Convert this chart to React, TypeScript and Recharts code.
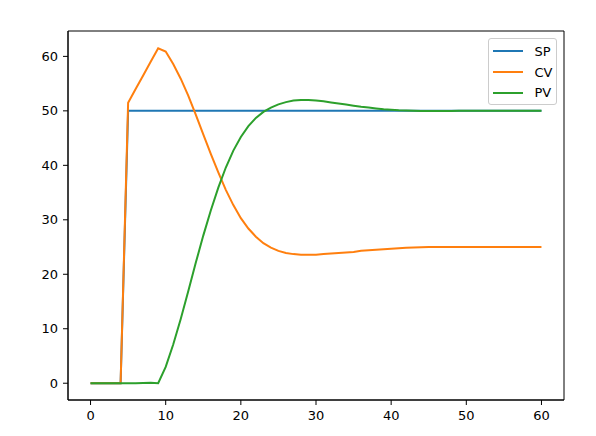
import React from "react";
import { LineChart, Line, XAxis, YAxis, ReferenceArea } from "recharts";

const time = Array.from({ length: 61 }, (_, i) => i);
const sp = [0, 0, 0, 0, 0, 50, 50, 50, 50, 50, 50, 50, 50, 50, 50, 50, 50, 50, 50, 50, 50, 50, 50, 50, 50, 50, 50, 50, 50, 50, 50, 50, 50, 50, 50, 50, 50, 50, 50, 50, 50, 50, 50, 50, 50, 50, 50, 50, 50, 50, 50, 50, 50, 50, 50, 50, 50, 50, 50, 50, 50];
const cv = [0, 0, 0, 0, 0, 51.5, 54, 56.5, 59, 61.5, 60.9, 58.6, 55.9, 52.8, 49.3, 45.7, 42.1, 38.7, 35.5, 32.7, 30.3, 28.4, 26.9, 25.7, 24.9, 24.3, 23.9, 23.7, 23.6, 23.6, 23.6, 23.7, 23.8, 23.9, 24, 24.1, 24.3, 24.4, 24.5, 24.6, 24.7, 24.8, 24.85, 24.9, 24.95, 25, 25, 25, 25, 25, 25, 25, 25, 25, 25, 25, 25, 25, 25, 25, 25];
const pv = [0, 0, 0, 0, 0, 0, 0, 0.05, 0.1, 0, 3, 7.1, 11.8, 16.9, 22.1, 27.1, 31.7, 35.9, 39.6, 42.7, 45.2, 47.2, 48.7, 49.8, 50.6, 51.2, 51.6, 51.9, 52, 52, 51.9, 51.75, 51.55, 51.35, 51.15, 50.95, 50.75, 50.6, 50.45, 50.3, 50.2, 50.1, 50.05, 50, 49.97, 49.97, 49.98, 49.98, 49.99, 50, 50, 50, 50, 50, 50, 50, 50, 50, 50, 50, 50];
const xTicks = [0, 10, 20, 30, 40, 50, 60];
const yTicks = [0, 10, 20, 30, 40, 50, 60];
const seriesNames = ["SP", "CV", "PV"];
const colors = ["#1f77b4", "#ff7f0e", "#2ca02c"];
const xDomain = [-3, 63];
const yDomain = [-3.08, 64.66];

const data = time.map((t, i) => ({ t, SP: sp[i], CV: cv[i], PV: pv[i] }));

const font = "DejaVu Sans, sans-serif";

const LegendBox = () => (
  <div
    style={{
      position: "absolute",
      left: 480,
      top: 30,
      width: 69,
      height: 67,
      boxSizing: "border-box",
      border: "1px solid #cccccc",
      borderRadius: 3,
      background: "rgba(255,255,255,0.8)",
      fontFamily: font,
      fontSize: 13,
      color: "#000",
      paddingTop: 2,
    }}
  >
    {seriesNames.map((n, i) => (
      <div key={n} style={{ display: "flex", alignItems: "center", height: 20.7 }}>
        <div style={{ width: 30, height: 2, background: colors[i], marginLeft: 3.5 }} />
        <span style={{ marginLeft: 12, lineHeight: "15px" }}>{n}</span>
      </div>
    ))}
  </div>
);

export default function App() {
  const tickStyle = { fill: "#000", fontSize: 13, fontFamily: font };
  return (
    <div style={{ position: "relative", width: 588, height: 428, background: "#fff" }}>
      <LineChart
        width={588}
        height={428}
        data={data}
        margin={{ top: 23, right: 32, left: 0, bottom: 0 }}
      >
        <XAxis
          dataKey="t"
          type="number"
          domain={xDomain}
          ticks={xTicks}
          allowDataOverflow
          height={36}
          tick={tickStyle}
          tickSize={5}
          tickMargin={6}
          stroke="#000"
          tickLine={{ stroke: "#000" }}
          axisLine={{ stroke: "#000" }}
        />
        <YAxis
          type="number"
          domain={yDomain}
          ticks={yTicks}
          allowDataOverflow
          width={60}
          tick={tickStyle}
          tickSize={5}
          tickMargin={5}
          stroke="#000"
          tickLine={{ stroke: "#000" }}
          axisLine={{ stroke: "#000" }}
        />
        <ReferenceArea
          x1={xDomain[0]}
          x2={xDomain[1]}
          y1={yDomain[0]}
          y2={yDomain[1]}
          fill="none"
          fillOpacity={0}
          stroke="#000"
          strokeWidth={1}
          ifOverflow="visible"
        />
        <Line type="linear" dataKey="SP" stroke={colors[0]} strokeWidth={2} dot={false} isAnimationActive={false} />
        <Line type="linear" dataKey="CV" stroke={colors[1]} strokeWidth={2} dot={false} isAnimationActive={false} />
        <Line type="linear" dataKey="PV" stroke={colors[2]} strokeWidth={2} dot={false} isAnimationActive={false} />
      </LineChart>
      <LegendBox />
    </div>
  );
}
